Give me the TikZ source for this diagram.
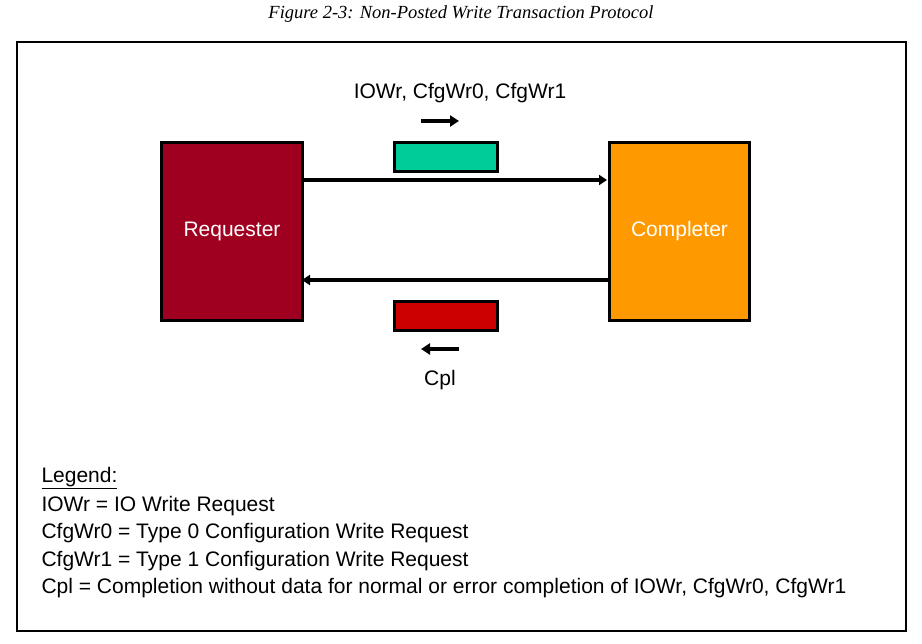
\documentclass[tikz,border=0pt]{standalone}
\usepackage{fontspec}
\usetikzlibrary{arrows.meta}
\setmainfont{Liberation Sans}
\newfontfamily\capfont{Liberation Serif}
\begin{document}
\begin{tikzpicture}[x=1pt,y=-1pt,
  blk/.style={draw=black,line width=3pt,inner sep=0pt,anchor=north west},
  lbl/.style={font=\fontsize{21}{24}\selectfont},
  conn/.style={line width=3.5pt,-{Triangle[length=8pt,width=10pt]}},
  sm/.style={line width=3.8pt,-{Triangle[length=9pt,width=11pt]}}]
\useasboundingbox (0,0) rectangle (922,644);
\node (title) at (461,14) {\capfont\itshape\fontsize{18.5}{20}\selectfont Figure 2-3: Non-Posted Write Transaction Protocol};
\draw[line width=1.6pt] (17,42) rectangle (906,631);
\definecolor{req}{HTML}{A00020}
\definecolor{cmp}{HTML}{FF9900}
\definecolor{grn}{HTML}{00CC99}
\definecolor{rd}{HTML}{CC0000}
\node[blk,fill=req,minimum width=141pt,minimum height=178pt] (r) at (160,141) {};
\node[lbl,text=white] at (r.center) {Requester};
\node[blk,fill=cmp,minimum width=140pt,minimum height=178pt] (c) at (608,141) {};
\node[lbl,text=white] at (c.center) {Completer};
\node[blk,fill=grn,minimum width=103pt,minimum height=29pt] (g) at (393,141) {};
\node[blk,fill=rd,minimum width=103pt,minimum height=29pt] (d) at (393,300) {};
\coordinate (a1) at (301,180); \coordinate (a2) at (607,180);
\coordinate (b1) at (608,280); \coordinate (b2) at (302,280);
\draw[conn] (a1) -- (a2);
\draw[conn] (b1) -- (b2);
\coordinate (s1) at (421,121); \coordinate (s2) at (459,121);
\coordinate (t1) at (459,349); \coordinate (t2) at (421,349);
\draw[sm] (s1) -- (s2);
\draw[sm] (t1) -- (t2);
\node[lbl] (tl) at (460,93) {IOWr, CfgWr0, CfgWr1};
\node[lbl] (bl) at (440,380) {Cpl};
\node[lbl,anchor=west] (l0) at (38,478) {\underline{Legend:}};
\node[lbl,anchor=west] (l1) at (38,506) {IOWr = IO Write Request};
\node[lbl,anchor=west] (l2) at (38,533) {CfgWr0 = Type 0 Configuration Write Request};
\node[lbl,anchor=west] (l3) at (38,561) {CfgWr1 = Type 1 Configuration Write Request};
\node[lbl,anchor=west] (l4) at (38,588) {Cpl = Completion without data for normal or error completion of IOWr, CfgWr0, CfgWr1};
\end{tikzpicture}
\end{document}
